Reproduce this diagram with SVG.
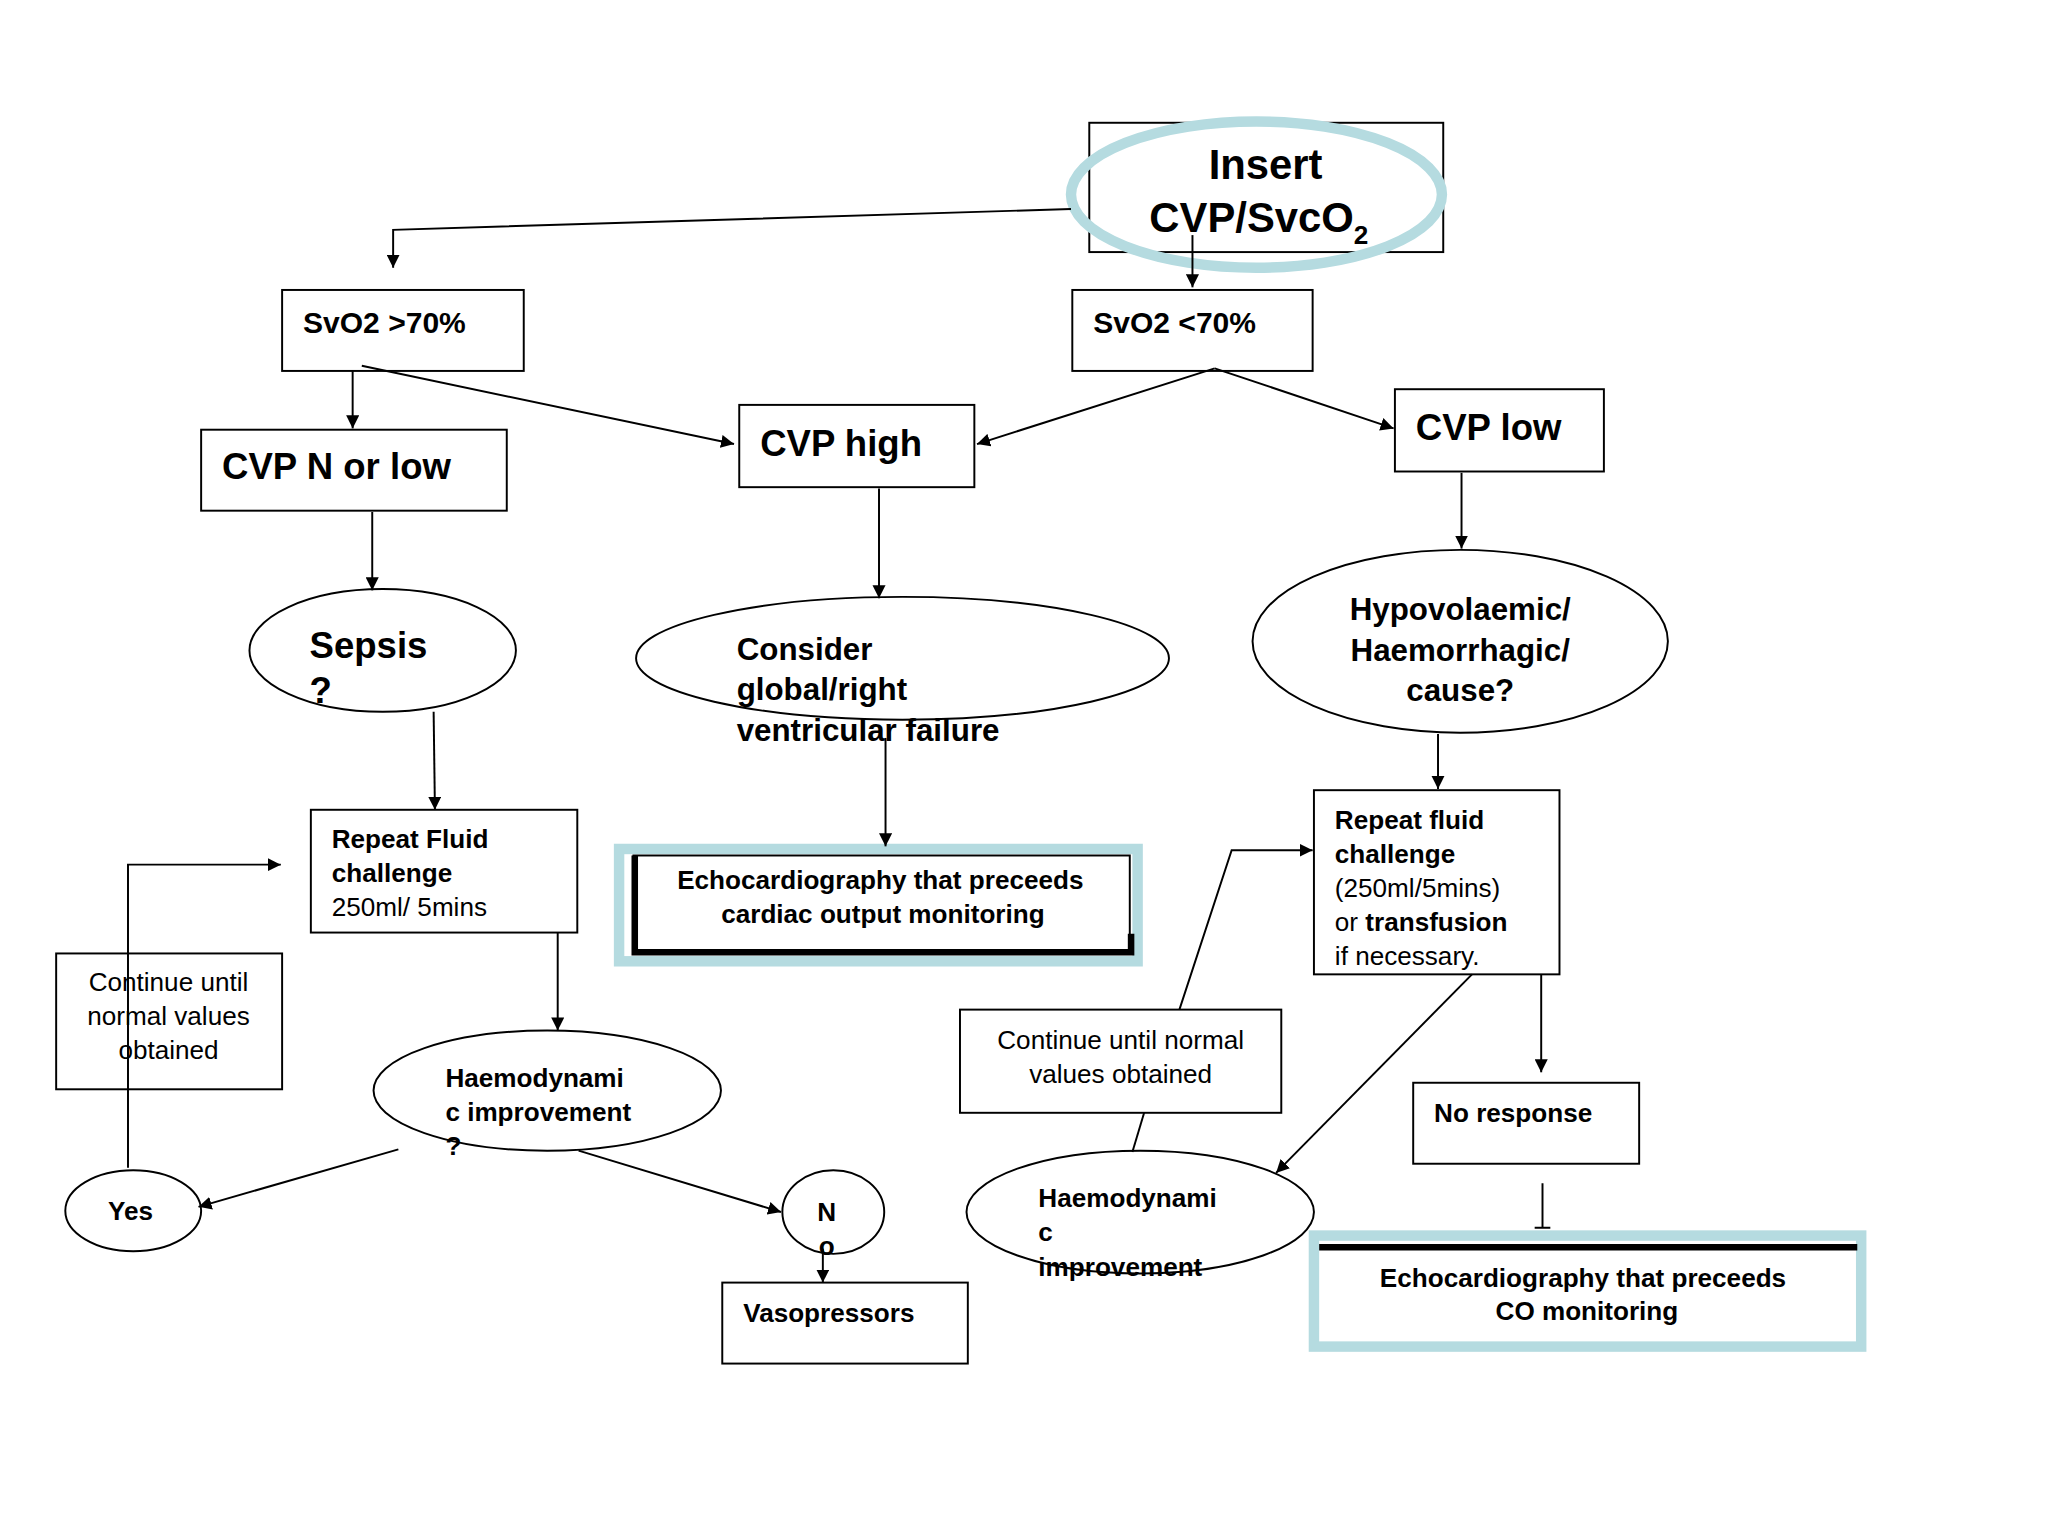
<svg xmlns="http://www.w3.org/2000/svg" width="2048" height="1536" viewBox="0 0 2048 1536">
<defs>
<style>
.b{fill:#fff;stroke:#000;stroke-width:1.5}
.t{font-family:"Liberation Sans",Arial,sans-serif;font-weight:bold;fill:#000}
.n{font-weight:normal}
.c{stroke:#000;stroke-width:1.5;fill:none}
.teal{fill:none;stroke:#b5dbe0;stroke-width:8}
</style>
<marker id="a" viewBox="0 0 10 10" refX="10" refY="5" markerWidth="10" markerHeight="10" markerUnits="userSpaceOnUse" orient="auto"><path d="M0,0L10,5L0,10z"/></marker>
</defs>
<rect width="2048" height="1536" fill="#fff"/>
<g transform="scale(1.3061)">
<g id="insert">
<rect class="b" x="834" y="94" width="271" height="99"/>
<ellipse cx="962" cy="149" rx="142" ry="56" fill="none" stroke="#b5dbe0" stroke-width="8"/>
<text class="t" x="969" y="137" font-size="32" text-anchor="middle">Insert</text>
<text class="t" x="880" y="178" font-size="32">CVP/SvcO<tspan font-size="20" dy="9">2</tspan></text>
</g>
<g id="svo2hi"><rect class="b" x="216" y="222" width="185" height="62"/><text class="t" x="232" y="255" font-size="23">SvO2 &gt;70%</text></g>
<g id="svo2lo"><rect class="b" x="821" y="222" width="184" height="62"/><text class="t" x="837" y="255" font-size="23">SvO2 &lt;70%</text></g>
<g id="cvpn"><rect class="b" x="154" y="329" width="234" height="62"/><text class="t" x="170" y="367" font-size="28">CVP N or low</text></g>
<g id="cvphigh"><rect class="b" x="566" y="310" width="180" height="63"/><text class="t" x="582" y="349" font-size="28">CVP high</text></g>
<g id="cvplow"><rect class="b" x="1068" y="298" width="160" height="63"/><text class="t" x="1084" y="337" font-size="28">CVP low</text></g>
<g id="sepsis"><ellipse class="b" cx="293" cy="498" rx="102" ry="47"/><text class="t" x="237" y="504" font-size="28">Sepsis</text><text class="t" x="237" y="538" font-size="28">?</text></g>
<g id="consider"><ellipse class="b" cx="691" cy="504" rx="204" ry="47"/>
<text class="t" font-size="24"><tspan x="564" y="505">Consider</tspan><tspan x="564" y="536">global/right</tspan><tspan x="564" y="567">ventricular failure</tspan></text></g>
<g id="hypo"><ellipse class="b" cx="1118" cy="491" rx="159" ry="70"/>
<text class="t" font-size="24" text-anchor="middle"><tspan x="1118" y="475">Hypovolaemic/</tspan><tspan x="1118" y="506">Haemorrhagic/</tspan><tspan x="1118" y="537">cause?</tspan></text></g>
<g id="repeat1"><rect class="b" x="238" y="620" width="204" height="94"/>
<text class="t" font-size="20"><tspan x="254" y="649">Repeat Fluid</tspan><tspan x="254" y="675">challenge</tspan><tspan x="254" y="701" class="n">250ml/ 5mins</tspan></text></g>
<g id="echo1"><rect x="474" y="650" width="397" height="86" fill="#fff" class="teal"/>
<rect x="485" y="655" width="380" height="73" fill="#fff" stroke="#000" stroke-width="1.5"/>
<path d="M486,655V729H866V715" stroke="#000" stroke-width="5" fill="none"/>
<text class="t" font-size="20" text-anchor="middle"><tspan x="674" y="681">Echocardiography that preceeds</tspan><tspan x="676" y="707">cardiac output monitoring</tspan></text></g>
<g id="repeat2"><rect class="b" x="1006" y="605" width="188" height="141"/>
<text class="t" font-size="20"><tspan x="1022" y="635">Repeat fluid</tspan><tspan x="1022" y="661">challenge</tspan><tspan x="1022" y="687" class="n">(250ml/5mins)</tspan><tspan x="1022" y="713"><tspan class="n">or </tspan>transfusion</tspan><tspan x="1022" y="739" class="n">if necessary.</tspan></text></g>
<g id="cont1"><rect class="b" x="43" y="730" width="173" height="104"/>
<text class="t n" font-size="20" text-anchor="middle"><tspan x="129" y="759">Continue until</tspan><tspan x="129" y="785">normal values</tspan><tspan x="129" y="811">obtained</tspan></text></g>
<g id="haemo1"><ellipse class="b" cx="419" cy="835" rx="133" ry="46"/>
<text class="t" font-size="20"><tspan x="341" y="832">Haemodynami</tspan><tspan x="341" y="858">c improvement</tspan><tspan x="341" y="884">?</tspan></text></g>
<g id="yes"><ellipse class="b" cx="102" cy="927" rx="52" ry="31"/><text class="t" x="100" y="934" font-size="20" text-anchor="middle">Yes</text></g>
<g id="no"><ellipse class="b" cx="638" cy="928" rx="39" ry="32"/><text class="t" x="633" y="935" font-size="20" text-anchor="middle">N</text><text class="t" x="633" y="961" font-size="20" text-anchor="middle">o</text></g>
<g id="vaso"><rect class="b" x="553" y="982" width="188" height="62"/><text class="t" x="569" y="1012" font-size="20">Vasopressors</text></g>
<g id="cont2"><rect class="b" x="735" y="773" width="246" height="79"/>
<text class="t n" font-size="20" text-anchor="middle"><tspan x="858" y="803">Continue until normal</tspan><tspan x="858" y="829">values obtained</tspan></text></g>
<g id="noresp"><rect class="b" x="1082" y="829" width="173" height="62"/><text class="t" x="1098" y="859" font-size="20">No response</text></g>
<g id="haemo2"><ellipse class="b" cx="873" cy="928" rx="133" ry="47"/>
<text class="t" font-size="20"><tspan x="795" y="924">Haemodynami</tspan><tspan x="795" y="950">c</tspan><tspan x="795" y="977">improvement</tspan></text></g>
<g id="echo2"><rect x="1006" y="946" width="419" height="85" fill="#fff" class="teal"/>
<line x1="1010" y1="955" x2="1422" y2="955" stroke="#000" stroke-width="5"/>
<text class="t" font-size="20" text-anchor="middle"><tspan x="1212" y="985">Echocardiography that preceeds</tspan><tspan x="1215" y="1011">CO monitoring</tspan></text></g>
<g id="connectors">
<path class="c" d="M820,160L301,176V205" marker-end="url(#a)"/>
<path class="c" d="M913,180V220" marker-end="url(#a)"/>
<path class="c" d="M270,284V328" marker-end="url(#a)"/>
<path class="c" d="M277,280L562,340" marker-end="url(#a)"/>
<path class="c" d="M930,282L748,340" marker-end="url(#a)"/>
<path class="c" d="M930,282L1067,328" marker-end="url(#a)"/>
<path class="c" d="M285,392V452" marker-end="url(#a)"/>
<path class="c" d="M673,374V458" marker-end="url(#a)"/>
<path class="c" d="M1119,362V420" marker-end="url(#a)"/>
<path class="c" d="M332,545L333,620" marker-end="url(#a)"/>
<path class="c" d="M678,565V648" marker-end="url(#a)"/>
<path class="c" d="M1101,562V604" marker-end="url(#a)"/>
<path class="c" d="M98,894V662H215" marker-end="url(#a)"/>
<path class="c" d="M427,714V789" marker-end="url(#a)"/>
<path class="c" d="M305,880L152,924" marker-end="url(#a)"/>
<path class="c" d="M443,881L598,928" marker-end="url(#a)"/>
<path class="c" d="M630,956V982" marker-end="url(#a)"/>
<path class="c" d="M903,773L943,651H1005" marker-end="url(#a)"/>
<path class="c" d="M876,852L867,882"/>
<path class="c" d="M1127,746L977,898" marker-end="url(#a)"/>
<path class="c" d="M1180,746V821" marker-end="url(#a)"/>
<path class="c" d="M1181,906V940M1175,940H1187"/>
</g>
</g>
</svg>
